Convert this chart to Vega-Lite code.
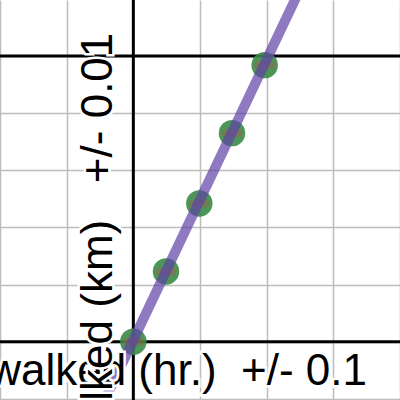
{
  "$schema": "https://vega.github.io/schema/vega-lite/v6.json",
  "width": 400,
  "height": 400,
  "autosize": "none",
  "padding": 0,
  "config": {
    "view": {"stroke": null},
    "axis": {
      "grid": true,
      "labels": false,
      "ticks": false,
      "domain": false,
      "title": null,
      "gridColor": "#bdbdbd",
      "gridWidth": 1.5
    },
    "text": {"font": "Liberation Sans", "fontSize": 44}
  },
  "datasets": {
    "points": [
      {"x": 0, "y": 0, "xlo": -0.1, "xhi": 0.1},
      {"x": 0.49, "y": 1.23, "xlo": 0.39, "xhi": 0.59},
      {"x": 0.99, "y": 2.42, "xlo": 0.89, "xhi": 1.09},
      {"x": 1.48, "y": 3.65, "xlo": 1.38, "xhi": 1.58},
      {"x": 1.97, "y": 4.84, "xlo": 1.87, "xhi": 2.07}
    ],
    "fit": [
      {"x": -1, "y": -2.425},
      {"x": 3, "y": 7.395}
    ],
    "xlabel": [{"label": "Time walked (hr.)\u00a0\u00a0+/- 0.1", "x": 3.505, "y": -0.758}],
    "ylabel": [{"label": "Distance walked (km)\u00a0\u00a0\u00a0+/- 0.01", "x": -0.324, "y": 5.408}],
    "vaxis": [{"x": 0}],
    "haxis": [{"y": 0}, {"y": 5}]
  },
  "layer": [
    {
      "data": {"name": "points"},
      "mark": {"type": "point", "opacity": 0},
      "encoding": {
        "x": {"field": "x", "type": "quantitative", "scale": {"domain": [-2, 4], "nice": false, "zero": false},
              "axis": {"values": [-2, -1, 0, 1, 2, 3, 4]}},
        "y": {"field": "y", "type": "quantitative", "scale": {"domain": [-1.02, 5.98], "nice": false, "zero": false},
              "axis": {"values": [-1, 0, 1, 2, 3, 4, 5]}}
      }
    },
    {
      "data": {"name": "vaxis"},
      "mark": {"type": "rule", "color": "black", "strokeWidth": 3},
      "encoding": {"x": {"field": "x", "type": "quantitative"}}
    },
    {
      "data": {"name": "haxis"},
      "mark": {"type": "rule", "color": "black", "strokeWidth": 3},
      "encoding": {"y": {"field": "y", "type": "quantitative"}}
    },
    {
      "data": {"name": "points"},
      "mark": {"type": "circle", "size": 700, "color": "#388c46", "opacity": 0.9},
      "encoding": {
        "x": {"field": "x", "type": "quantitative"},
        "y": {"field": "y", "type": "quantitative"}
      }
    },
    {
      "data": {"name": "points"},
      "mark": {"type": "rule", "color": "#c74440", "opacity": 0.3, "strokeWidth": 8, "strokeCap": "round"},
      "encoding": {
        "x": {"field": "xlo", "type": "quantitative"},
        "x2": {"field": "xhi"},
        "y": {"field": "y", "type": "quantitative"}
      }
    },
    {
      "data": {"name": "fit"},
      "mark": {"type": "line", "color": "#6042a6", "opacity": 0.7, "strokeWidth": 10, "clip": true},
      "encoding": {
        "x": {"field": "x", "type": "quantitative"},
        "y": {"field": "y", "type": "quantitative"}
      }
    },
    {
      "data": {"name": "xlabel"},
      "mark": {"type": "text", "align": "right", "baseline": "alphabetic", "color": "white", "stroke": "white", "strokeWidth": 5},
      "encoding": {
        "x": {"field": "x", "type": "quantitative"},
        "y": {"field": "y", "type": "quantitative"},
        "text": {"field": "label"}
      }
    },
    {
      "data": {"name": "xlabel"},
      "mark": {"type": "text", "align": "right", "baseline": "alphabetic", "color": "black"},
      "encoding": {
        "x": {"field": "x", "type": "quantitative"},
        "y": {"field": "y", "type": "quantitative"},
        "text": {"field": "label"}
      }
    },
    {
      "data": {"name": "ylabel"},
      "mark": {"type": "text", "angle": 270, "align": "right", "baseline": "alphabetic", "color": "white", "stroke": "white", "strokeWidth": 5},
      "encoding": {
        "x": {"field": "x", "type": "quantitative"},
        "y": {"field": "y", "type": "quantitative"},
        "text": {"field": "label"}
      }
    },
    {
      "data": {"name": "ylabel"},
      "mark": {"type": "text", "angle": 270, "align": "right", "baseline": "alphabetic", "color": "black"},
      "encoding": {
        "x": {"field": "x", "type": "quantitative"},
        "y": {"field": "y", "type": "quantitative"},
        "text": {"field": "label"}
      }
    }
  ]
}
